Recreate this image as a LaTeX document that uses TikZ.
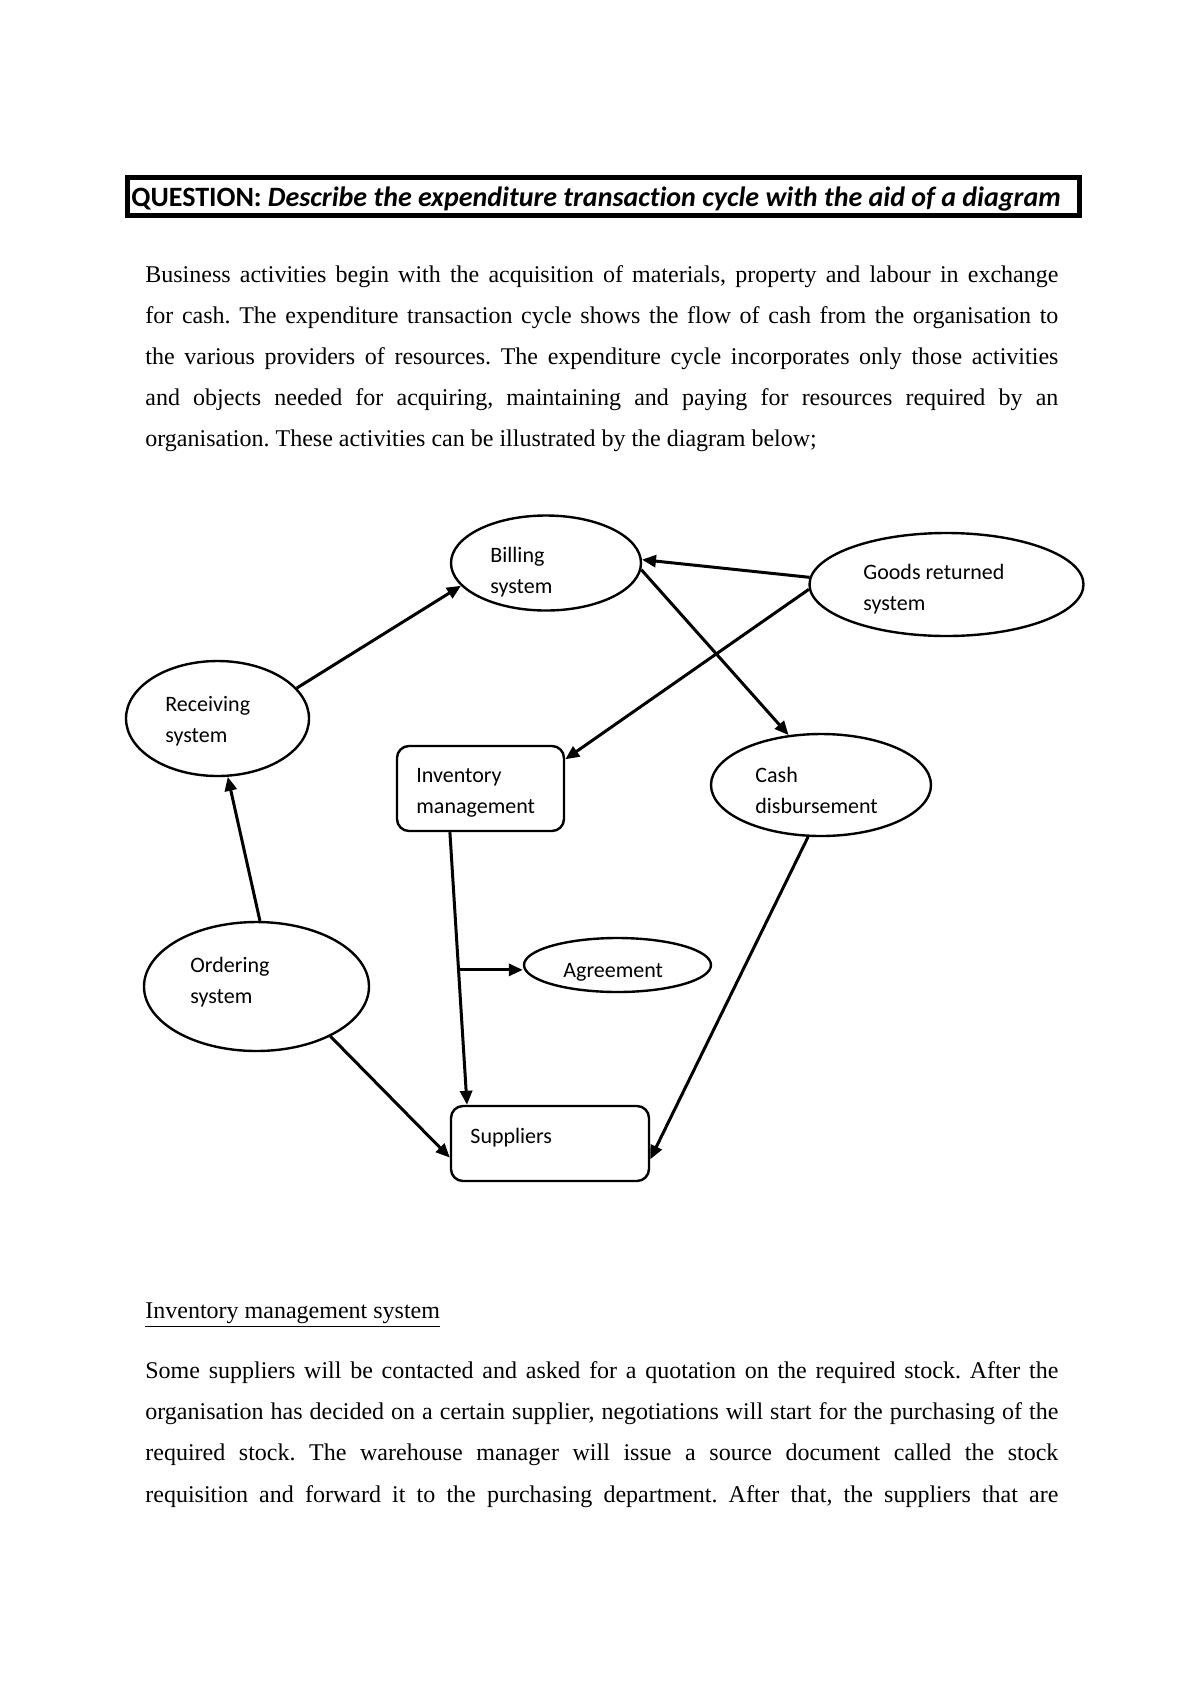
\documentclass[tikz,border=0pt]{standalone}
\usepackage{fontspec}
\setmainfont{Liberation Serif}
\newfontfamily\calibri[Ligatures=NoCommon]{Carlito}
\usetikzlibrary{arrows.meta,shapes.geometric,calc}

\tikzset{
	sysellipse/.style={draw, ellipse, line width=1.2pt, inner sep=0pt},
	sysbox/.style={draw, rectangle, rounded corners=6pt, line width=1.2pt, inner sep=0pt},
	lbl/.style={anchor=base west, inner sep=0pt, align=left, font=\calibri\fontsize{11}{15.5}\selectfont},
	flow/.style={line width=1.5pt, -{Triangle[length=7pt,width=6pt]}},
	bodytext/.style={anchor=base west, inner sep=0pt, text width=456.5pt, align=justify},
}

\begin{document}
\frenchspacing
\begin{tikzpicture}[x=0.5pt,y=0.5pt,yscale=-1]
	%set page 1200 x 1698
	\fill[white] (0,0) rectangle (1200,1698);
	\useasboundingbox (0,0) rectangle (1200,1698);
	
	%Title box
	\draw [line width=2.5pt] (127,177) rectangle (1079,215);
	% Text Node
	\node [anchor=base west, inner sep=0pt, font=\calibri\fontsize{14}{16}\selectfont\bfseries] (question) at (131,206) {QUESTION: \textit{Describe the expenditure transaction cycle with the aid of a diagram}};
	% Text Node
	\node [bodytext, font=\fontsize{12}{20.5}\selectfont] (intro) at (145,282) {Business activities begin with the acquisition of materials, property and labour in exchange\linebreak
		for cash. The expenditure transaction cycle shows the flow of cash from the organisation to\linebreak
		the various providers of resources. The expenditure cycle incorporates only those activities\linebreak
		and objects needed for acquiring, maintaining and paying for resources required by an\linebreak
		organisation. These activities can be illustrated by the diagram below;};
	
	%Shape: Ellipse
	\node [sysellipse, minimum width=95pt, minimum height=47.5pt] (billing) at (546,563) {};
	%Shape: Ellipse
	\node [sysellipse, minimum width=137pt, minimum height=51.5pt] (goods) at (946.5,584.5) {};
	%Shape: Ellipse
	\node [sysellipse, minimum width=91.5pt, minimum height=57.5pt] (receiving) at (217.5,718.5) {};
	%Rounded Rect
	\node [sysbox, minimum width=83.5pt, minimum height=42.5pt] (inventory) at (480.5,788.5) {};
	%Shape: Ellipse
	\node [sysellipse, minimum width=110pt, minimum height=51pt] (cash) at (821,785) {};
	%Shape: Ellipse
	\node [sysellipse, minimum width=112.5pt, minimum height=64.5pt] (ordering) at (256.5,986.5) {};
	%Shape: Ellipse
	\node [sysellipse, minimum width=93.5pt, minimum height=27pt] (agreement) at (617.5,965) {};
	%Rounded Rect
	\node [sysbox, minimum width=99pt, minimum height=37.5pt] (suppliers) at (550,1143.5) {};
	
	% Text Node (base = last line)
	\node [lbl] (billinglbl) at (490,593) {Billing\\system};
	% Text Node
	\node [lbl] (goodslbl) at (863,610) {Goods returned\\system};
	% Text Node
	\node [lbl] (receivinglbl) at (165,742) {Receiving\\system};
	% Text Node
	\node [lbl] (inventorylbl) at (416,813) {Inventory\\management};
	% Text Node
	\node [lbl] (cashlbl) at (755,813) {Cash\\disbursement};
	% Text Node
	\node [lbl] (orderinglbl) at (190,1003) {Ordering\\system};
	% Text Node
	\node [lbl] (agreementlbl) at (563,977) {Agreement};
	% Text Node
	\node [lbl] (supplierslbl) at (470,1143) {Suppliers};
	
	%Straight Lines
	\draw [flow] (receiving.21) -- (billing.195);
	\draw [flow] (goods.177) -- (billing.2);
	\draw [flow] (goods.182) -- (inventory.19);
	\draw [flow] (billing.356) -- (cash.123);
	\draw [flow] (ordering.87) -- (receiving.280);
	\draw [flow] (ordering.326) -- (suppliers.188);
	\draw [flow] (inventory.235) -- (suppliers.155);
	\coordinate (split) at ($(inventory.235)!0.505!(suppliers.155)$);
	\draw [flow] (split) -- (split -| agreement.west);
	\draw [flow] (cash.256) -- (suppliers.351);
	
	% Text Node
	\node [anchor=base west, inner sep=0pt, font=\fontsize{12}{14}\selectfont] (invhead) at (145,1318) {\underline{Inventory management system}};
	% Text Node
	\node [bodytext, font=\fontsize{12}{20.7}\selectfont] (invtext) at (145,1378) {Some suppliers will be contacted and asked for a quotation on the required stock. After the\linebreak
		organisation has decided on a certain supplier, negotiations will start for the purchasing of the\linebreak
		required stock. The warehouse manager will issue a source document called the stock\linebreak
		requisition and forward it to the purchasing department. After that, the suppliers that are\linebreak\mbox{}};
\end{tikzpicture}
\end{document}
